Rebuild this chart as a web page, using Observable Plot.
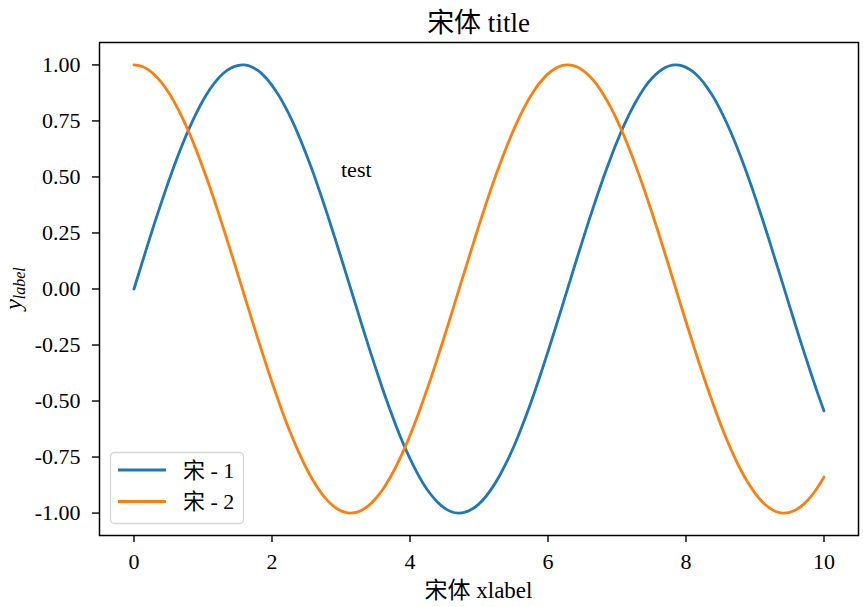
<!DOCTYPE html>
<html>
<head>
<meta charset="utf-8">
<script src="https://cdn.jsdelivr.net/npm/d3@7"></script>
<script src="https://cdn.jsdelivr.net/npm/@observablehq/plot@0.6"></script>
<style>
  html, body { margin: 0; padding: 0; background: #fff; }
  #chart svg { display: block; }
</style>
</head>
<body>
<div id="chart"></div>
<script>
// Sampled x positions (step 0.1 from 0 to 10)
const xs = [0,0.1,0.2,0.3,0.4,0.5,0.6,0.7,0.8,0.9,1,1.1,1.2,1.3,1.4,1.5,1.6,1.7,1.8,1.9,2,2.1,2.2,2.3,2.4,2.5,2.6,2.7,2.8,2.9,3,3.1,3.2,3.3,3.4,3.5,3.6,3.7,3.8,3.9,4,4.1,4.2,4.3,4.4,4.5,4.6,4.7,4.8,4.9,5,5.1,5.2,5.3,5.4,5.5,5.6,5.7,5.8,5.9,6,6.1,6.2,6.3,6.4,6.5,6.6,6.7,6.8,6.9,7,7.1,7.2,7.3,7.4,7.5,7.6,7.7,7.8,7.9,8,8.1,8.2,8.3,8.4,8.5,8.6,8.7,8.8,8.9,9,9.1,9.2,9.3,9.4,9.5,9.6,9.7,9.8,9.9,10];
// Series "宋 - 1"
const series1 = [0.000,0.100,0.199,0.296,0.389,0.479,0.565,0.644,0.717,0.783,0.841,0.891,0.932,0.964,0.985,0.997,1.000,0.992,0.974,0.946,0.909,0.863,0.808,0.746,0.675,0.598,0.516,0.427,0.335,0.239,0.141,0.042,-0.058,-0.158,-0.256,-0.351,-0.443,-0.530,-0.612,-0.688,-0.757,-0.818,-0.872,-0.916,-0.952,-0.978,-0.994,-1.000,-0.996,-0.982,-0.959,-0.926,-0.883,-0.832,-0.773,-0.706,-0.631,-0.551,-0.465,-0.374,-0.279,-0.182,-0.083,0.017,0.117,0.215,0.312,0.405,0.494,0.578,0.657,0.729,0.794,0.850,0.899,0.938,0.968,0.988,0.999,0.999,0.989,0.970,0.941,0.902,0.855,0.798,0.734,0.663,0.585,0.501,0.412,0.319,0.223,0.124,0.025,-0.075,-0.174,-0.272,-0.366,-0.458,-0.544];
// Series "宋 - 2"
const series2 = [1.000,0.995,0.980,0.955,0.921,0.878,0.825,0.765,0.697,0.622,0.540,0.454,0.362,0.267,0.170,0.071,-0.029,-0.129,-0.227,-0.323,-0.416,-0.505,-0.589,-0.666,-0.737,-0.801,-0.857,-0.904,-0.942,-0.971,-0.990,-0.999,-0.998,-0.987,-0.967,-0.936,-0.897,-0.848,-0.791,-0.726,-0.654,-0.575,-0.490,-0.401,-0.307,-0.211,-0.112,-0.012,0.087,0.186,0.284,0.378,0.469,0.554,0.635,0.709,0.776,0.835,0.886,0.927,0.960,0.983,0.997,1.000,0.994,0.977,0.951,0.915,0.869,0.816,0.754,0.685,0.608,0.526,0.439,0.347,0.252,0.154,0.054,-0.046,-0.146,-0.244,-0.340,-0.432,-0.519,-0.602,-0.678,-0.748,-0.811,-0.865,-0.911,-0.948,-0.975,-0.993,-1.000,-0.997,-0.984,-0.962,-0.930,-0.889,-0.839];
const seriesNames = ["宋 - 1", "宋 - 2"];
const seriesColors = ["#1f77b4", "#ff7f0e"];
const xTicks = [0,2,4,6,8,10];
const yTicks = [-1,-0.75,-0.5,-0.25,0,0.25,0.5,0.75,1];
const titleText = "宋体 title";
const xLabelText = "宋体 xlabel";
const annotation = {x: 3, y: 0.5, text: "test"};

const data = [];
xs.forEach((x, i) => {
  data.push({x, y: series1[i], s: seriesNames[0]});
  data.push({x, y: series2[i], s: seriesNames[1]});
});

const FONT = "'Liberation Serif', 'Times New Roman', 'Noto Sans CJK SC', serif";
const W = 863, H = 607;
const mL = 99, mR = 5, mT = 42, mB = 72;
const FS = 22;
const fmtY = d => (d < 0 ? "-" : "") + Math.abs(d).toFixed(2);

const plot = Plot.plot({
  width: W, height: H,
  marginLeft: mL, marginRight: mR, marginTop: mT, marginBottom: mB,
  style: {fontFamily: FONT, fontSize: FS + "px", color: "#000", background: "#fff"},
  x: {domain: [-0.5, 10.5], label: null},
  y: {domain: [-1.1, 1.1], label: null},
  color: {domain: seriesNames, range: seriesColors},
  marks: [
    Plot.axisX({ticks: xTicks, tickFormat: d => String(d), tickSize: 7, tickPadding: 11, fontSize: FS, fontFamily: FONT, fontVariant: "normal", strokeWidth: 1.4, label: null}),
    Plot.axisY({ticks: yTicks, tickFormat: fmtY, tickSize: 7, tickPadding: 12, fontSize: FS, fontFamily: FONT, fontVariant: "normal", strokeWidth: 1.4, label: null}),
    Plot.line(data, {x: "x", y: "y", z: "s", stroke: "s", strokeWidth: 2.8, curve: "catmull-rom"}),
    Plot.text([annotation], {x: "x", y: "y", text: "text", textAnchor: "start", lineAnchor: "bottom", fontSize: FS, fontFamily: FONT, fill: "#000"}),
    Plot.frame({stroke: "#000", strokeWidth: 1.5})
  ]
});

document.getElementById("chart").appendChild(plot);

const svg = d3.select(plot);
const cx = mL + (W - mL - mR) / 2;

// Title
svg.append("text")
  .attr("x", cx).attr("y", 32)
  .attr("text-anchor", "middle")
  .style("font-family", FONT).style("font-size", "27px").attr("fill", "#000")
  .text(titleText);

// X label
svg.append("text")
  .attr("x", cx).attr("y", 598)
  .attr("text-anchor", "middle")
  .style("font-family", FONT).style("font-size", "23px").attr("fill", "#000")
  .text(xLabelText);

// Y label with subscript
const yl = svg.append("text")
  .attr("transform", `translate(21,${mT + (H - mT - mB) / 2}) rotate(-90)`)
  .attr("text-anchor", "middle")
  .style("font-family", FONT).style("font-size", "24px").style("font-style", "italic").attr("fill", "#000");
yl.append("tspan").text("y");
yl.append("tspan").attr("dy", 4).style("font-size", "16px").text("label");

// Legend
const lg = svg.append("g");
lg.append("rect")
  .attr("x", 110.5).attr("y", 452.5).attr("width", 133).attr("height", 71)
  .attr("rx", 4).attr("ry", 4)
  .attr("fill", "#fff").attr("fill-opacity", 0.8)
  .attr("stroke", "#d6d6d6").attr("stroke-width", 1.3);
seriesNames.forEach((name, i) => {
  const yy = 470 + i * 31.5;
  lg.append("line")
    .attr("x1", 118).attr("x2", 166).attr("y1", yy).attr("y2", yy)
    .attr("stroke", seriesColors[i]).attr("stroke-width", 2.8);
  lg.append("text")
    .attr("x", 183).attr("y", yy + 7.5)
    .attr("text-anchor", "start")
    .style("font-family", FONT).style("font-size", FS + "px").attr("fill", "#000")
    .text(name);
});
</script>
</body>
</html>
